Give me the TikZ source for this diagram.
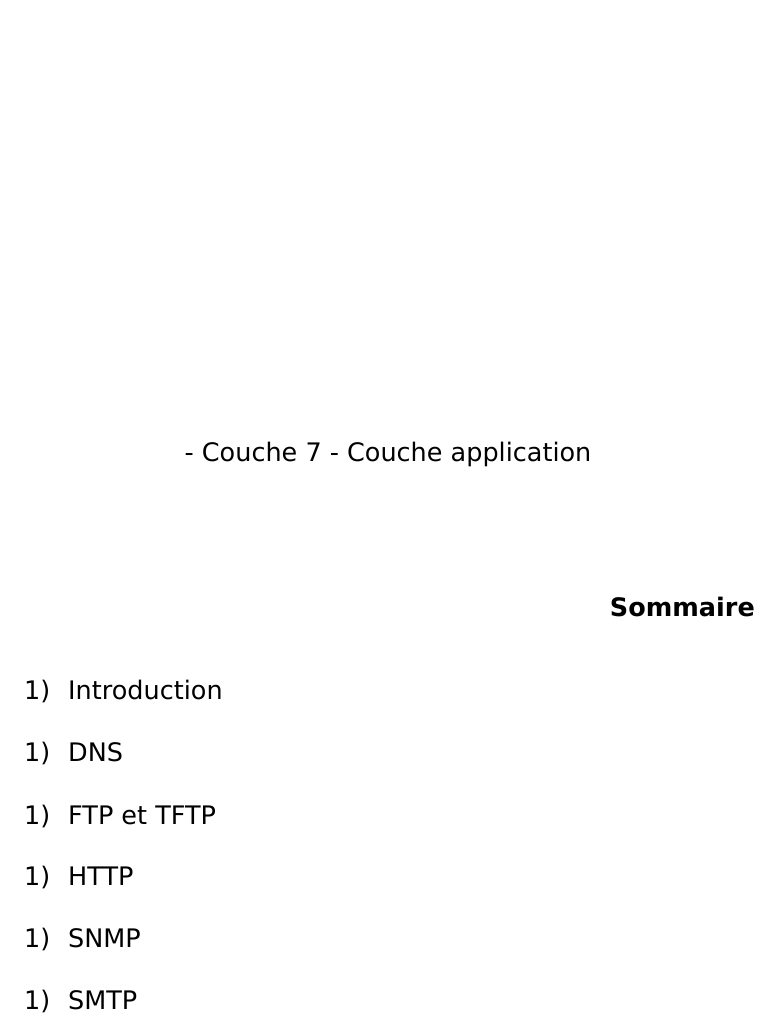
\documentclass[tikz,border=0pt]{standalone}
\usepackage{fontspec}
\setmainfont{DejaVu Sans}
\begin{document}
\begin{tikzpicture}[x=1pt,y=-1pt,
  txt/.style={inner sep=0pt,font=\fontsize{25.5}{30}\selectfont}]
\useasboundingbox (0,0) rectangle (768,1024);
\node[txt,anchor=base] (title) at (388,461) {- Couche 7 - Couche application};
\node[txt,anchor=base east,font=\fontsize{25.5}{30}\selectfont\bfseries] (som) at (755,616) {Sommaire};
\foreach \y/\t [count=\i] in {699/Introduction,761/DNS,824/FTP et TFTP,885/HTTP,947/SNMP,1009/SMTP}{
  \node[txt,anchor=base west] (n\i) at (24,\y) {1)};
  \node[txt,anchor=base west] (t\i) at (68,\y) {\t};
}
\end{tikzpicture}
\end{document}
